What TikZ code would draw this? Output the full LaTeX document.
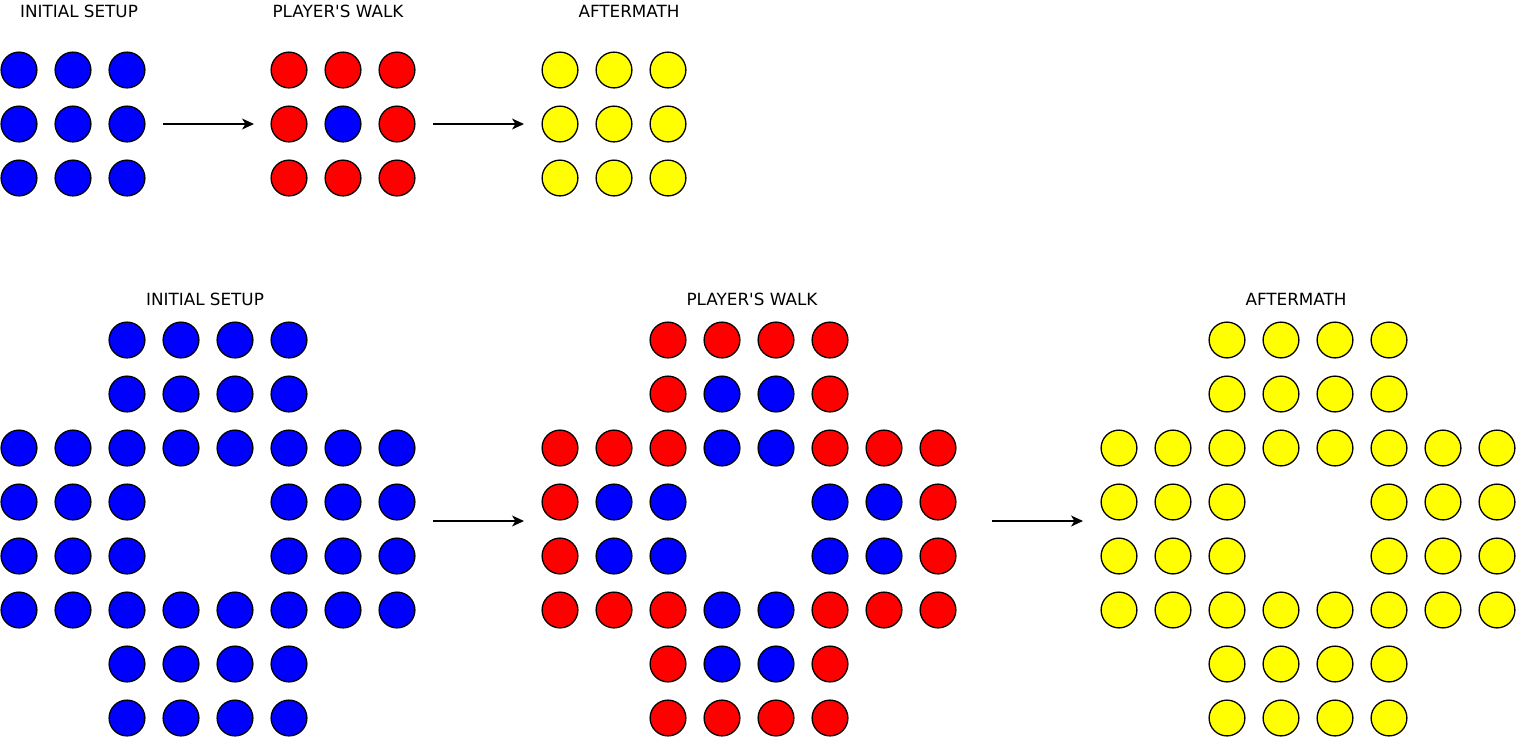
\documentclass[tikz,border=0pt]{standalone}
\usepackage{fontspec}
\setmainfont{DejaVu Sans}
\usetikzlibrary{arrows.meta}
\definecolor{pegblue}{RGB}{0,0,255}
\definecolor{pegred}{RGB}{255,0,0}
\definecolor{pegyellow}{RGB}{255,255,0}
\tikzset{
  peg/.style={circle, draw=black, line width=1.3pt, minimum size=35.8pt, inner sep=0pt},
  bluepeg/.style={peg, fill=pegblue},
  redpeg/.style={peg, fill=pegred},
  yellowpeg/.style={peg, fill=pegyellow},
  flow/.style={line width=1.5pt, -{Stealth[length=12pt, width=11pt, inset=3.5pt]}},
  title/.style={font=\fontsize{16.8}{18}\selectfont, anchor=base, inner sep=0pt}
}
\def\allcells{2/0,3/0,4/0,5/0,2/1,3/1,4/1,5/1,0/2,1/2,2/2,3/2,4/2,5/2,6/2,7/2,0/3,1/3,2/3,5/3,6/3,7/3,0/4,1/4,2/4,5/4,6/4,7/4,0/5,1/5,2/5,3/5,4/5,5/5,6/5,7/5,2/6,3/6,4/6,5/6,2/7,3/7,4/7,5/7}
\def\bluecells{3/1,4/1,3/2,4/2,1/3,2/3,5/3,6/3,1/4,2/4,5/4,6/4,3/5,4/5,3/6,4/6}
\def\redcells{2/0,3/0,4/0,5/0,2/1,5/1,0/2,1/2,2/2,5/2,6/2,7/2,0/3,7/3,0/4,7/4,0/5,1/5,2/5,5/5,6/5,7/5,2/6,5/6,2/7,3/7,4/7,5/7}
\begin{document}
\begin{tikzpicture}[x=1pt, y=-1pt]
\useasboundingbox (0,0) rectangle (1517,740);
% ---------- top row ----------
\node[title] (t1) at (79,17) {INITIAL SETUP};
\node[title] (t2) at (338,17) {PLAYER\textquotesingle S WALK};
\node[title] (t3) at (629,17) {AFTERMATH};
\foreach \c in {0,1,2} {
  \foreach \r in {0,1,2} {
    \node[bluepeg] (a-\c-\r) at (19+54*\c, 70+54*\r) {};
    \node[yellowpeg] (c-\c-\r) at (560+54*\c, 70+54*\r) {};
  }
}
\foreach \c/\r in {0/0,1/0,2/0,0/1,2/1,0/2,1/2,2/2} {
  \node[redpeg] (b-\c-\r) at (289+54*\c, 70+54*\r) {};
}
\node[bluepeg] (b-1-1) at (343,124) {};
\coordinate (a1s) at (163,124);
\coordinate (a1e) at (254,124);
\coordinate (a2s) at (433,124);
\coordinate (a2e) at (524,124);
\draw[flow] (a1s) -- (a1e);
\draw[flow] (a2s) -- (a2e);
% ---------- bottom row ----------
\node[title] (s1) at (205,305) {INITIAL SETUP};
\node[title] (s2) at (752,305) {PLAYER\textquotesingle S WALK};
\node[title] (s3) at (1296,305) {AFTERMATH};
\foreach \c/\r in \allcells {
  \node[bluepeg] (d-\c-\r) at (19+54*\c, 340+54*\r) {};
  \node[yellowpeg] (f-\c-\r) at (1119+54*\c, 340+54*\r) {};
}
\foreach \c/\r in \bluecells {
  \node[bluepeg] (e-\c-\r) at (560+54*\c, 340+54*\r) {};
}
\foreach \c/\r in \redcells {
  \node[redpeg] (e-\c-\r) at (560+54*\c, 340+54*\r) {};
}
\coordinate (a3s) at (433,521);
\coordinate (a3e) at (524,521);
\coordinate (a4s) at (992,521);
\coordinate (a4e) at (1083,521);
\draw[flow] (a3s) -- (a3e);
\draw[flow] (a4s) -- (a4e);
\end{tikzpicture}
\end{document}
